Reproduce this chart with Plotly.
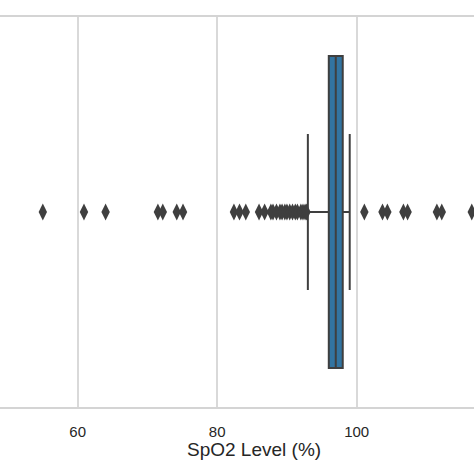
import plotly.graph_objects as go

category = ["SpO2"]
q1 = [96.0]
median = [97.0]
q3 = [98.0]
lower_whisker = [93.0]
upper_whisker = [99.0]
outliers = [55.0, 60.9, 64.0, 71.5, 72.2, 74.2, 75.1,
            82.4, 83.2, 84.1, 86.0, 86.8, 87.7,
            88.0, 88.5, 89.0, 89.3, 89.7, 90.0, 90.4, 90.8, 91.2, 91.5, 92.0, 92.3, 92.6, 92.8,
            101.1, 103.7, 104.4, 106.7, 107.3, 111.5, 112.2, 116.5]
x_ticks = [40, 60, 80, 100, 120]

fig = go.Figure()
fig.add_trace(go.Box(
    y=category, q1=q1, median=median, q3=q3,
    lowerfence=lower_whisker, upperfence=upper_whisker,
    orientation="h", width=0.8, whiskerwidth=0.5,
    fillcolor="#3274a1", line=dict(color="#3f3f3f", width=2),
    boxpoints=False, showlegend=False, hoverinfo="skip",
))
fig.add_trace(go.Scatter(
    x=outliers, y=category * len(outliers), mode="markers",
    marker=dict(symbol="diamond-tall", size=12, color="#3f3f3f",
                line=dict(width=0)),
    showlegend=False,
))

fig.update_layout(
    width=474, height=474,
    margin=dict(l=0, r=0, t=17, b=67),
    plot_bgcolor="white", paper_bgcolor="white",
    font=dict(family="Liberation Sans, Arial, sans-serif", color="#262626"),
    xaxis=dict(range=[48.86, 116.82], tickvals=x_ticks, showgrid=True,
               gridcolor="#d9d9d9", gridwidth=1.5, zeroline=False,
               showline=True, mirror=True, linecolor="#d4d4d4", linewidth=1.5,
               ticks="", tickfont=dict(size=15, color="#262626"),
               ticklabelstandoff=10),
    yaxis=dict(type="category", range=[-0.5, 0.5], showticklabels=False,
               showgrid=False, zeroline=False, showline=False, ticks=""),
    annotations=[dict(text="SpO2 Level (%)", xref="paper", yref="paper",
                      x=254/474, y=0, yshift=-42, xanchor="center", yanchor="middle",
                      showarrow=False, font=dict(size=19, color="#262626"))],
)
fig.write_html("out.html")
